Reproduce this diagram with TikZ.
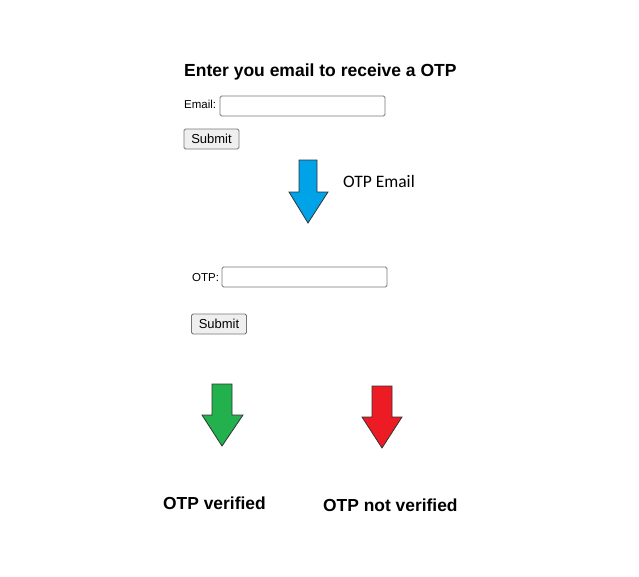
\documentclass[tikz,border=0pt]{standalone}
\usepackage{fontspec}
\setmainfont{Liberation Sans}
\newfontfamily\calibri{Carlito}
\usepackage{tikz}
\usetikzlibrary{positioning}

\definecolor{otpblue}{RGB}{0,162,232}
\definecolor{otpgreen}{RGB}{34,177,76}
\definecolor{otpred}{RGB}{237,28,36}
\definecolor{fieldgray}{RGB}{118,118,118}
\definecolor{buttongray}{RGB}{239,239,239}

\tikzset{
  field/.style={draw=fieldgray, line width=0.9pt, rounded corners=1.5pt, minimum width=165pt, minimum height=20pt, inner sep=0pt},
  button/.style={draw=fieldgray, fill=buttongray, line width=0.9pt, rounded corners=1.5pt, minimum width=55pt, minimum height=20pt, inner sep=0pt, font=\fontsize{13pt}{15pt}\selectfont},
  label/.style={anchor=base west, inner sep=0pt, font=\fontsize{11.5pt}{13pt}\selectfont},
  heading/.style={anchor=base west, inner sep=0pt, font=\bfseries\fontsize{17.4pt}{20pt}\selectfont},
  bigarrow/.style={draw=black!80, line width=0.8pt, line join=miter}
}

\begin{document}
\begin{tikzpicture}[x=1pt, y=-1pt]
      \useasboundingbox (0,0) rectangle (639,576);
      % first form
      \node[heading, font=\bfseries\fontsize{17.5pt}{20pt}\selectfont] (title) at (184,76) {Enter you email to receive a OTP};
      \node[label] (emaillabel) at (184,108) {Email:};
      \node[field] (emailbox) at (302.5,106) {};
      \node[button] (submita) at (211.5,139) {Submit};
      % otp mail
      \draw[bigarrow, fill=otpblue] (299,160) -- (317,160) -- (317,192) -- (328,192) -- (308,223) -- (289,192) -- (299,192) -- cycle;
      \node[anchor=base west, inner sep=0pt, font=\calibri\fontsize{17.5pt}{20pt}\selectfont] (mail) at (343,187) {OTP Email};
      % second form
      \node[label] (otplabel) at (192,281) {OTP:};
      \node[field] (otpbox) at (304.5,277) {};
      \node[button] (submitb) at (219,324) {Submit};
      % results
      \draw[bigarrow, fill=otpgreen] (212,384) -- (232,384) -- (232,415) -- (243,415) -- (222,446) -- (202,415) -- (212,415) -- cycle;
      \draw[bigarrow, fill=otpred] (372,386) -- (392,386) -- (392,417) -- (402,417) -- (382,448) -- (362,417) -- (372,417) -- cycle;
      \node[heading] (okay) at (163,509) {OTP verified};
      \node[heading] (fail) at (323,511) {OTP not verified};
\end{tikzpicture}
\end{document}
